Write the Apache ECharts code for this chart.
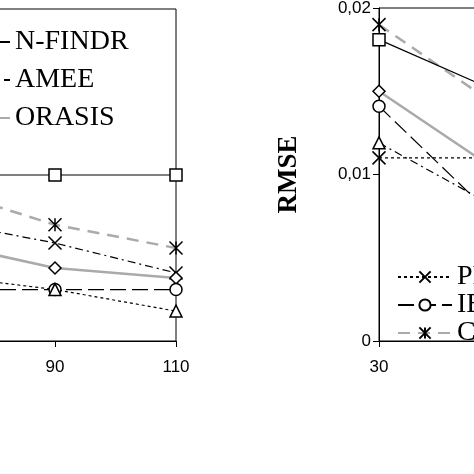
<!DOCTYPE html>
<html><head><meta charset="utf-8">
<script src="https://cdn.jsdelivr.net/npm/echarts@6/dist/echarts.min.js"></script>
<style>html,body{margin:0;background:#fff}#c{width:474px;height:474px}</style>
</head><body><div id="c"></div>
<script>
// left panel (x = 70, 90, 110)
const leftX = [70, 90, 110];
const nfindr = [0.0100, 0.0100, 0.0100];
const ameeX = [0.0073, 0.0059, 0.0041];
const orasisDia = [0.0060, 0.0044, 0.0038];
const leftStar = [0.0093, 0.0070, 0.0056];
const leftCircle = [0.0031, 0.0031, 0.0031];
const leftTri = [0.0040, 0.0031, 0.0018];
// right panel (x = 30, 50)
const rightX = [30, 50];
const ppi = [0.0110, 0.0110];
const iea = [0.0141, 0.0071];
const cca = [0.0190, 0.0140];
const rSquare = [0.0181, 0.0149];
const rDia = [0.0150, 0.0101];
const rTri = [0.0119, 0.0079];

const X = 'path://M0,0L10,10M10,0L0,10';
const STAR = 'path://M0,0L10,10M10,0L0,10M5,0L5,10';
const GREY = '#aaa';

function ser(name, xs, ys, grid, symbol, lineColor, type, width) {
  return {
    name, type: 'line', xAxisIndex: grid, yAxisIndex: grid,
    data: xs.map((x, i) => [x, ys[i]]),
    symbol, symbolSize: symbol.startsWith('path') ? 13 : 12,
    itemStyle: { color: '#fff', borderColor: '#000', borderWidth: 1.5 },
    lineStyle: { color: lineColor, type, width },
    emphasis: { disabled: true }
  };
}

const axisCommon = {
  type: 'value', min: 30, max: 110, interval: 20,
  axisLine: { onZero: false, lineStyle: { color: '#000' } },
  axisTick: { length: 6, lineStyle: { color: '#000' } },
  axisLabel: { color: '#000', fontSize: 17, fontFamily: 'Liberation Sans', margin: 18 },
  splitLine: { show: false }
};
const yCommon = {
  type: 'value', min: 0, max: 0.02, interval: 0.01,
  axisLine: { show: true, lineStyle: { color: '#000' } },
  axisTick: { show: true, inside: false, length: 6, lineStyle: { color: '#000' } },
  axisLabel: { color: '#000', fontSize: 17, fontFamily: 'Liberation Sans',
    formatter: v => v === 0 ? '0' : v.toFixed(2).replace('.', ',') },
  splitLine: { show: false }
};
const legendText = { fontFamily: 'Liberation Serif', fontSize: 28, color: '#000' };

const chart = echarts.init(document.getElementById('c'));
chart.setOption({
  animation: false,
  grid: [
    { left: -308, width: 484, top: 9, bottom: 133, outerBoundsMode: 'none', containLabel: false,
      show: true, borderColor: '#000', borderWidth: 1 },
    { left: 379, width: 484, top: 8, bottom: 133, outerBoundsMode: 'none', containLabel: false,
      show: true, borderColor: '#000', borderWidth: 1 }
  ],
  xAxis: [Object.assign({ gridIndex: 0 }, axisCommon), Object.assign({ gridIndex: 1 }, axisCommon)],
  yAxis: [
    Object.assign({ gridIndex: 0 }, yCommon),
    Object.assign({ gridIndex: 1, name: 'RMSE', nameLocation: 'middle', nameGap: 76, nameRotate: 90,
      nameTextStyle: { fontFamily: 'Liberation Serif', fontWeight: 'bold', fontSize: 27, color: '#000' } }, yCommon)
  ],
  legend: [
    { data: ['N-FINDR', 'AMEE', 'ORASIS'], orient: 'vertical', left: -56, top: 22, itemWidth: 60,
      itemGap: 8, textStyle: Object.assign({ lineHeight: 30 }, legendText) },
    { data: ['PPI', 'IEA', 'CCA'], orient: 'vertical', left: 392, top: 258, itemWidth: 54,
      itemGap: 0, itemHeight: 14, textStyle: Object.assign({ lineHeight: 22 }, legendText) }
  ],
  series: [
    ser('N-FINDR', leftX, nfindr, 0, 'rect', '#000', 'solid', 1.2),
    ser('AMEE', leftX, ameeX, 0, X, '#000', [8, 4, 2, 4], 1.2),
    ser('ORASIS', leftX, orasisDia, 0, 'diamond', GREY, 'solid', 2.5),
    ser('CCA-l', leftX, leftStar, 0, STAR, GREY, [12, 8], 2.5),
    ser('IEA-l', leftX, leftCircle, 0, 'circle', '#000', [16, 6], 1.2),
    ser('PPI-l', leftX, leftTri, 0, 'triangle', '#000', [3, 3], 1.2),
    ser('PPI', rightX, ppi, 1, X, '#000', [3, 3], 1.2),
    ser('IEA', rightX, iea, 1, 'circle', '#000', [16, 6], 1.2),
    ser('CCA', rightX, cca, 1, STAR, GREY, [12, 8], 2.5),
    ser('N-FINDR-r', rightX, rSquare, 1, 'rect', '#000', 'solid', 1.2),
    ser('ORASIS-r', rightX, rDia, 1, 'diamond', GREY, 'solid', 2.5),
    ser('AMEE-r', rightX, rTri, 1, 'triangle', '#000', [8, 4, 2, 4], 1.2)
  ]
});
</script></body></html>
